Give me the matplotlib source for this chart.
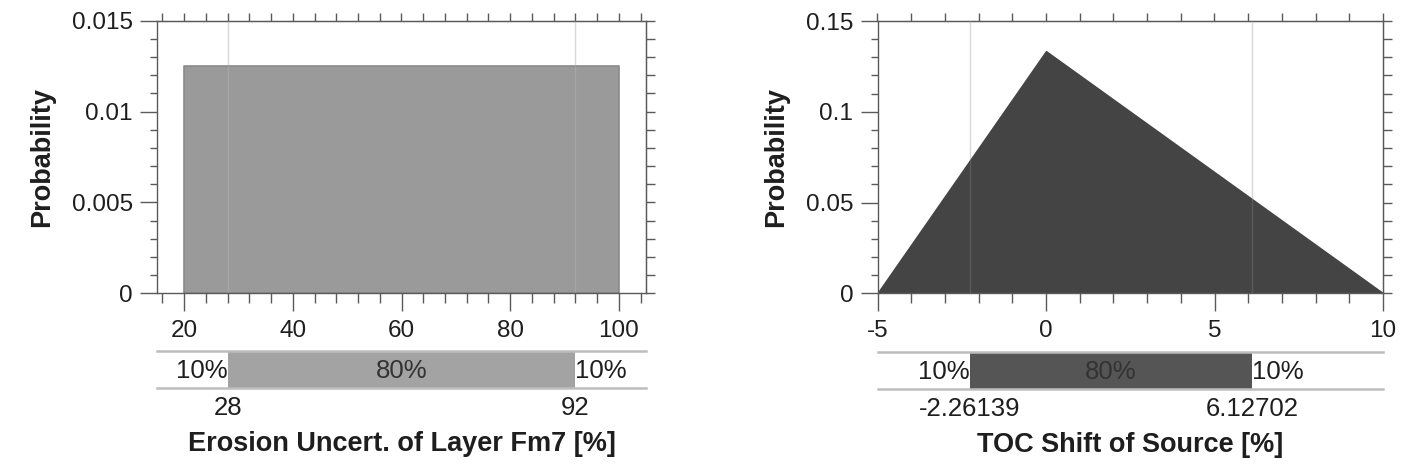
import matplotlib
matplotlib.use("Agg")
import matplotlib.pyplot as plt
import numpy as np

# ---------------- data ----------------
left_x = [20, 100]
left_prob = [0.0125, 0.0125]
left_pct = [28, 92]
left_pct_labels = ["28", "92"]
left_xticks = [20, 40, 60, 80, 100]
left_xtick_labels = ["20", "40", "60", "80", "100"]
left_yticks = [0, 0.005, 0.01, 0.015]
left_ytick_labels = ["0", "0.005", "0.01", "0.015"]
left_xlabel = "Erosion Uncert. of Layer Fm7 [%]"

right_x = [-5, 0, 10]
right_prob = [0.0, 0.13333, 0.0]
right_pct = [-2.26139, 6.12702]
right_pct_labels = ["-2.26139", "6.12702"]
right_xticks = [-5, 0, 5, 10]
right_xtick_labels = ["-5", "0", "5", "10"]
right_yticks = [0, 0.05, 0.1, 0.15]
right_ytick_labels = ["0", "0.05", "0.1", "0.15"]
right_xlabel = "TOC Shift of Source [%]"

band_labels = ["10%", "80%", "10%"]
ylabel = "Probability"

plt.rcParams['font.family'] = ['Liberation Sans', 'DejaVu Sans']
plt.rcParams['axes.unicode_minus'] = False

W, H = 1425, 469
fig = plt.figure(figsize=(W / 100, H / 100), dpi=100)

SPINE = '#5a5a5a'
TXT = '#1e1e1e'
BANDLINE = '#bdbdbd'


def px_rect(l, r, t, b):
    return [l / W, 1 - b / H, (r - l) / W, (b - t) / H]


def make_panel(main_rect, band_rect, xs, ys, fill, edge, band_fill, band_txt,
               xlim, ylim, xticks, xtl, xminor, yticks, ytl, yminor,
               pct, pct_labels, xlabel, ylabel_x):
    ax = fig.add_axes(main_rect)
    ax.fill_between(xs, 0, ys, facecolor=fill, edgecolor=edge, linewidth=1.2, zorder=2)
    for p in pct:
        ax.axvline(p, color='#d4d4d4', lw=1.0, zorder=1)
        ax.axvline(p, color='white', lw=1.0, alpha=0.12, zorder=3)
    ax.set_xlim(*xlim)
    ax.set_ylim(*ylim)
    for s in ax.spines.values():
        s.set_color(SPINE)
        s.set_linewidth(1.0)
    ax.set_xticks(xticks)
    ax.set_xticklabels(xtl)
    ax.set_xticks(xminor, minor=True)
    ax.set_yticks(yticks)
    ax.set_yticklabels(ytl)
    ax.set_yticks(yminor, minor=True)
    ax.tick_params(axis='x', which='major', direction='out', length=13, width=1.0,
                   color=SPINE, labelsize=17.5, labelcolor=TXT, pad=6)
    ax.tick_params(axis='x', which='minor', direction='out', length=7, width=1.0, color=SPINE)
    ax.tick_params(axis='y', which='major', direction='out', length=12.5, width=1.0,
                   color=SPINE, labelsize=17.5, labelcolor=TXT, pad=5)
    ax.tick_params(axis='y', which='minor', direction='out', length=5, width=1.0, color=SPINE)
    ax.set_ylabel(ylabel, fontsize=19.5, fontweight='bold', color=TXT, va='center')
    ax.yaxis.set_label_coords(ylabel_x, 0.5)

    top = ax.secondary_xaxis('top')
    top.set_xticks(xminor)
    top.set_xticklabels([])
    top.tick_params(direction='out', length=5.5, width=1.0, color=SPINE)
    top.spines['top'].set_color(SPINE)
    right = ax.secondary_yaxis('right')
    right.set_yticks(yminor)
    right.set_yticklabels([])
    right.tick_params(direction='out', length=6.5, width=1.0, color=SPINE)
    right.spines['right'].set_color(SPINE)

    # percentile band
    bx = fig.add_axes(band_rect)
    bx.set_xlim(*xlim)
    bx.set_ylim(0, 1)
    bx.axvspan(pct[0], pct[1], ymin=0, ymax=1, facecolor=band_fill, edgecolor='none')
    bx.axhline(1, color=BANDLINE, lw=1.8, clip_on=False)
    bx.axhline(0, color=BANDLINE, lw=1.8, clip_on=False)
    for s in bx.spines.values():
        s.set_visible(False)
    bx.set_yticks([])
    bx.set_xticks(pct)
    bx.set_xticklabels(pct_labels)
    bx.tick_params(axis='x', length=0, labelsize=18.5, labelcolor=TXT, pad=6)
    bx.text(pct[0], 0.45, band_labels[0], ha='right', va='center', fontsize=18.5, color=TXT)
    bx.text((pct[0] + pct[1]) / 2, 0.45, band_labels[1], ha='center', va='center',
            fontsize=18.5, color=band_txt)
    bx.text(pct[1], 0.45, band_labels[2], ha='left', va='center',
            fontsize=18.5, color=TXT)
    bx.set_xlabel(xlabel, fontsize=19.5, fontweight='bold', color=TXT, labelpad=8)
    return ax, bx


make_panel(px_rect(157, 646, 20.7, 293.3), px_rect(157, 646, 350.5, 388),
           left_x, left_prob, '#9a9a9a', '#8a8a8a', '#a3a3a3', '#333333',
           (15, 105), (0, 0.015), left_xticks, left_xtick_labels,
           list(range(16, 105, 4)), left_yticks, left_ytick_labels,
           [i * 0.001 for i in range(16)], left_pct, left_pct_labels, left_xlabel,
           -(157 - 42) / (646 - 157))

make_panel(px_rect(877.5, 1383, 21, 293.3), px_rect(877.5, 1383, 351.5, 389),
           right_x, right_prob, '#444444', '#444444', '#555555', '#333333',
           (-5, 10), (0, 0.15), right_xticks, right_xtick_labels,
           list(range(-5, 11)), right_yticks, right_ytick_labels,
           [i * 0.01 for i in range(16)], right_pct, right_pct_labels, right_xlabel,
           -(877.5 - 776) / (1383 - 877.5))

fig.savefig("out.png", dpi=100)
